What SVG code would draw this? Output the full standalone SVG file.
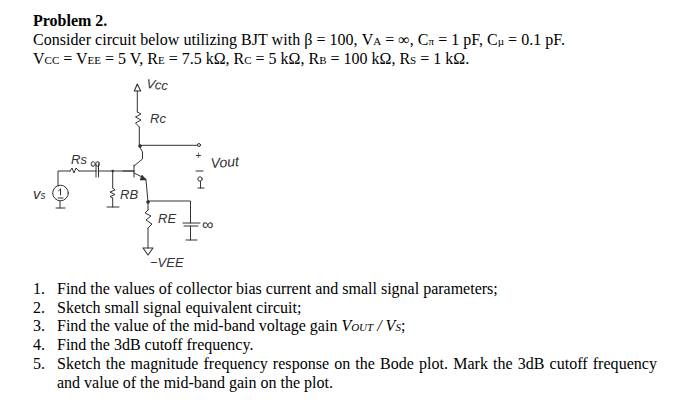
<svg xmlns="http://www.w3.org/2000/svg" width="692" height="402" viewBox="0 0 692 402">
<style>
text{font-family:"Liberation Serif","Times New Roman",serif;font-size:16px;fill:#000}
.b{font-weight:bold}
.s{font-size:11px}
.i{font-style:italic}
.h{font-family:"Liberation Sans",Arial,sans-serif;font-size:13px;font-style:italic;fill:#333}
.w{fill:none;stroke:#333;stroke-width:1;stroke-linecap:round;stroke-linejoin:round}
.t{fill:none;stroke:#333;stroke-width:1.1;stroke-linejoin:round}
.d{fill:#333;stroke:#333;stroke-width:.6}
</style>
<rect width="692" height="402" fill="#fff"/>
<g id="problem-text">
<text class="b" x="33" y="26">Problem 2.</text>
<text x="33" y="45" textLength="532" lengthAdjust="spacing">Consider circuit below utilizing BJT with β = 100, V<tspan class="s">A</tspan> = ∞, C<tspan class="s">π</tspan> = 1 pF, C<tspan class="s">µ</tspan> = 0.1 pF.</text>
<text x="33" y="63.500">V<tspan class="s">CC</tspan> = V<tspan class="s">EE</tspan> = 5 V, R<tspan class="s">E</tspan> = 7.5 kΩ, R<tspan class="s">C</tspan> = 5 kΩ, R<tspan class="s">B</tspan> = 100 kΩ, R<tspan class="s">S</tspan> = 1 kΩ.</text>
</g>
<g id="connectors">
<path class="w" d="M137.3 91V112M139.300 127V146L142.500 152V159L134 166M140 145.300H197.500"/>
<path class="w" d="M58 186V171H70M79 171H96M98 171H134M112.700 171V188M112.700 198V207M107 207H119"/>
<path class="w" d="M60 201V208M56 208H65"/>
<path class="w" d="M146 180L148 202V210M148 228V248M148 201H190.500V223M190.500 226V240M186 240H197"/>
<path class="w" d="M200.500 181.500V188M198 188H204"/>
</g>
<g id="vcc"><path class="t" d="M137.300 84L134.300 91H140.700L137.300 84Z"/><text class="h" x="146" y="88" transform="rotate(6 146 88)">Vcc</text></g>
<g id="rc"><path class="w" d="M137.300 112L141 114L135.500 117L141 120L135.500 123L139.300 127"/><text class="h" x="150" y="123">Rc</text></g>
<g id="collector-node"><circle class="d" cx="140" cy="146" r="1.500"/></g>
<g id="vout-plus"><circle class="w" cx="199" cy="145" r="1.500"/><text class="h" x="195.500" y="159" style="font-size:10px;font-style:normal">+</text></g>
<g id="vout-label"><text class="h" x="211" y="168" style="font-size:14px" transform="rotate(-4 211 168)">Vout</text></g>
<g id="vout-minus"><path class="w" d="M196 171H203"/><circle class="w" cx="200" cy="179" r="2.200"/></g>
<g id="bjt"><path class="w" d="M134 165V177M123 171H134M134 173L146 179"/><path class="d" d="M146 180L140 180L142 175Z"/></g>
<g id="source"><circle class="w" cx="60.500" cy="193" r="7.800"/><path class="w" d="M60.500 189V195M58.500 191L60.500 189M58 198H63"/><text class="h" x="33" y="199" style="font-size:15px">v<tspan style="font-size:10px">s</tspan></text></g>
<g id="rs"><path class="w" d="M70 171L72 168L74 173L76 168L79 171"/><text class="h" x="71" y="164">Rs</text></g>
<g id="coupling-cap"><path class="w" d="M96 164V177M98.500 164V177"/><text class="h" x="90" y="168" style="font-size:14px;font-style:normal">∞</text></g>
<g id="base-node"><circle class="d" cx="112.700" cy="171" r="1"/></g>
<g id="rb"><path class="w" d="M112.700 188L115 190L110 192L115 194.500L110 196.500L112.700 198"/><text class="h" x="120" y="199">RB</text></g>
<g id="emitter-node"><circle class="d" cx="148" cy="202" r="1.500"/></g>
<g id="re"><path class="w" d="M148 210L145 213L151 216L146 220L152 224L148 228"/><text class="h" x="158" y="223">RE</text></g>
<g id="bypass-cap"><path class="w" d="M183 223H200M184 226H198"/><text class="h" x="202" y="230" style="font-size:16px;font-style:normal">∞</text></g>
<g id="vee"><path class="t" d="M143 248H153L148 255Z"/><text class="h" x="150" y="267">−VEE</text></g>
<g id="questions">
<text x="33" y="294">1.</text><text x="57" y="294">Find the values of collector bias current and small signal parameters;</text>
<text x="33" y="313">2.</text><text x="57" y="313">Sketch small signal equivalent circuit;</text>
<text x="33" y="331">3.</text><text x="57" y="331">Find the value of the mid-band voltage gain <tspan class="i">V</tspan><tspan class="i s">OUT</tspan><tspan class="i"> / V</tspan><tspan class="i s">S</tspan>;</text>
<text x="33" y="350">4.</text><text x="57" y="350">Find the 3dB cutoff frequency.</text>
<text x="33" y="369">5.</text><text x="57" y="369" textLength="600" lengthAdjust="spacing" style="word-spacing:1px">Sketch the magnitude frequency response on the Bode plot. Mark the 3dB cutoff frequency</text>
<text x="57" y="388">and value of the mid-band gain on the plot.</text>
</g>
</svg>
